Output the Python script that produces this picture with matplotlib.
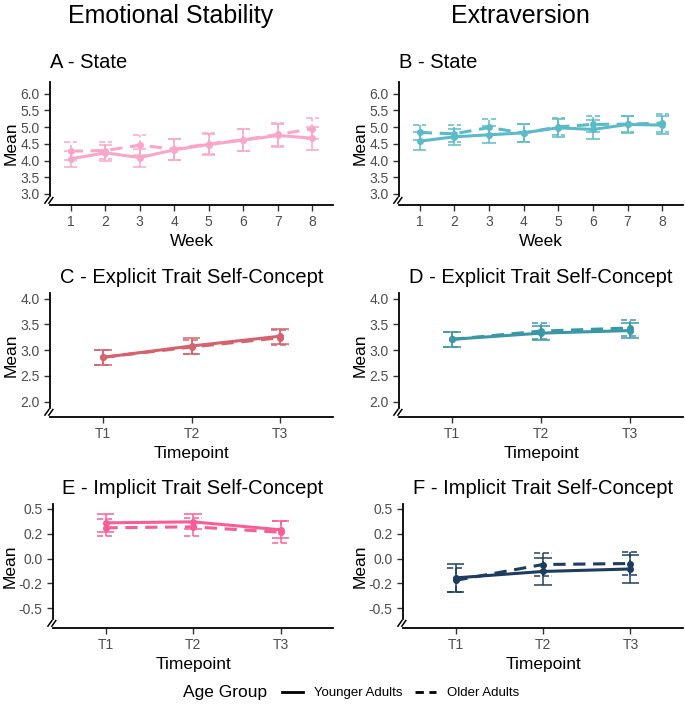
import matplotlib
matplotlib.use("Agg")
import matplotlib.pyplot as plt
from matplotlib.lines import Line2D

plt.rcParams['font.family'] = ['Liberation Sans', 'DejaVu Sans']

# x categories
weeks = [1, 2, 3, 4, 5, 6, 7, 8]
timepoints = ["T1", "T2", "T3"]

# A - emotional stability, state (weekly)
es_state_young = [4.05, 4.23, 4.09, 4.32, 4.48, 4.61, 4.75, 4.67]
es_state_young_se = [0.24, 0.24, 0.27, 0.31, 0.31, 0.32, 0.34, 0.34]
es_state_old = [4.28, 4.30, 4.46, 4.34, 4.50, 4.62, 4.78, 4.95]
es_state_old_se = [0.27, 0.26, 0.29, 0.31, 0.31, 0.32, 0.34, 0.31]

# B - extraversion, state (weekly)
ex_state_young = [4.58, 4.71, 4.77, 4.83, 4.98, 4.93, 5.08, 5.06]
ex_state_young_se = [0.27, 0.24, 0.25, 0.27, 0.27, 0.28, 0.25, 0.26]
ex_state_old = [4.84, 4.80, 4.99, 4.82, 5.01, 5.08, 5.09, 5.12]
ex_state_old_se = [0.22, 0.25, 0.24, 0.27, 0.25, 0.24, 0.25, 0.26]

# C / D - explicit trait self-concept
es_expl_young = [2.86, 3.08, 3.27]
es_expl_young_se = [0.14, 0.15, 0.15]
es_expl_old = [2.86, 3.06, 3.24]
es_expl_old_se = [0.14, 0.14, 0.15]
ex_expl_young = [3.21, 3.33, 3.38]
ex_expl_young_se = [0.14, 0.14, 0.14]
ex_expl_old = [3.21, 3.37, 3.43]
ex_expl_old_se = [0.15, 0.15, 0.15]

# E / F - implicit trait self-concept
es_impl_young = [0.36, 0.37, 0.29]
es_impl_young_se = [0.09, 0.075, 0.085]
es_impl_old = [0.31, 0.32, 0.265]
es_impl_old_se = [0.085, 0.09, 0.11]
ex_impl_young = [-0.195, -0.13, -0.105]
ex_impl_young_se = [0.145, 0.14, 0.145]
ex_impl_old = [-0.22, -0.06, -0.05]
ex_impl_old_se = [0.12, 0.12, 0.12]

state_ticks = [3.0, 3.5, 4.0, 4.5, 5.0, 5.5, 6.0]
expl_ticks = [2.0, 2.5, 3.0, 3.5, 4.0]
impl_ticks = [-0.5, -0.25, 0.0, 0.25, 0.5]
impl_ticklabels = ["-0.5", "-0.2", "0.0", "0.2", "0.5"]

W, H = 685, 709
fig = plt.figure(figsize=(W / 100, H / 100), dpi=100)


def px_axes(left, top, right, bottom):
    return fig.add_axes([left / W, 1 - bottom / H, (right - left) / W, (bottom - top) / H])


def draw_group(ax, x, y, se, color, ls, cap):
    lo = [a - b for a, b in zip(y, se)]
    hi = [a + b for a, b in zip(y, se)]
    ax.vlines(x, lo, hi, color=color, lw=1.2, linestyles=ls, alpha=0.9)
    ax.hlines(lo, [v - cap for v in x], [v + cap for v in x], color=color, lw=1.2, linestyles=ls, alpha=0.9)
    ax.hlines(hi, [v - cap for v in x], [v + cap for v in x], color=color, lw=1.2, linestyles=ls, alpha=0.9)
    ax.plot(x, y, color=color, lw=2.2, ls=ls, marker='o', ms=4, dashes=(4, 2.5) if ls == '--' else (None, None))


def panel(ax, x, young, young_se, old, old_se, color, title, title_loc,
          ylim, yticks, xlim, xticklabels, xlabel, cap, yticklabels=None):
    draw_group(ax, x, old, old_se, color, '--', cap)
    draw_group(ax, x, young, young_se, color, '-', cap)
    ax.set_xlim(*xlim)
    ax.set_ylim(*ylim)
    ax.set_xticks(x)
    ax.set_xticklabels(xticklabels)
    ax.set_yticks(yticks)
    if yticklabels is None:
        yticklabels = [f"{t:.1f}" for t in yticks]
    ax.set_yticklabels(yticklabels)
    for s in ['top', 'right']:
        ax.spines[s].set_visible(False)
    for s in ['left', 'bottom']:
        ax.spines[s].set_linewidth(1.3)
    ax.spines['left'].set_bounds(ylim[0] + (ylim[1] - ylim[0]) * 0.07, ylim[1])
    ax.tick_params(axis='both', labelsize=10, labelcolor='#4d4d4d', length=4, width=1, color='#333333')
    ax.set_xlabel(xlabel, fontsize=12.5, labelpad=3)
    ax.set_ylabel("Mean", fontsize=12.5, labelpad=1)
    if title_loc == 'left':
        ax.set_title(title, loc='left', fontsize=14.5, pad=10)
    else:
        ax.set_title(title, fontsize=14.5, pad=7)
    # axis break marks
    for dx in (0.0, 0.014):
        ax.plot([-0.018 + dx, -0.004 + dx], [0.015, 0.06], transform=ax.transAxes,
                color='black', lw=1.1, clip_on=False)


xt = [1, 2, 3]

axA = px_axes(50, 82, 333, 205)
panel(axA, weeks, es_state_young, es_state_young_se, es_state_old, es_state_old_se,
      '#f9a6c8', "A - State", 'left', (2.67, 6.35), state_ticks, (0.4, 8.6),
      [str(w) for w in weeks], "Week", 0.19)

axB = px_axes(399, 82, 683, 205)
panel(axB, weeks, ex_state_young, ex_state_young_se, ex_state_old, ex_state_old_se,
      '#5bbac7', "B - State", 'left', (2.67, 6.35), state_ticks, (0.4, 8.6),
      [str(w) for w in weeks], "Week", 0.19)

axC = px_axes(50, 293, 333, 417)
panel(axC, xt, es_expl_young, es_expl_young_se, es_expl_old, es_expl_old_se,
      '#d6616f', "C - Explicit Trait Self-Concept", 'center', (1.70, 4.11), expl_ticks, (0.4, 3.6),
      timepoints, "Timepoint", 0.1)

axD = px_axes(399, 293, 683, 417)
panel(axD, xt, ex_expl_young, ex_expl_young_se, ex_expl_old, ex_expl_old_se,
      '#3a97a6', "D - Explicit Trait Self-Concept", 'center', (1.70, 4.11), expl_ticks, (0.4, 3.6),
      timepoints, "Timepoint", 0.1)

axE = px_axes(53, 504, 333, 628)
panel(axE, xt, es_impl_young, es_impl_young_se, es_impl_old, es_impl_old_se,
      '#f75e97', "E - Implicit Trait Self-Concept", 'center', (-0.70, 0.55), impl_ticks, (0.4, 3.6),
      timepoints, "Timepoint", 0.1, impl_ticklabels)

axF = px_axes(403, 504, 683, 628)
panel(axF, xt, ex_impl_young, ex_impl_young_se, ex_impl_old, ex_impl_old_se,
      '#1d3c5e', "F - Implicit Trait Self-Concept", 'center', (-0.70, 0.55), impl_ticks, (0.4, 3.6),
      timepoints, "Timepoint", 0.1, impl_ticklabels)

# column headers
fig.text(171 / W, 1 - 16 / H, "Emotional Stability", fontsize=18, ha='center', va='center')
fig.text(520 / W, 1 - 16 / H, "Extraversion", fontsize=18, ha='center', va='center')

# legend
fig.text(183 / W, 1 - 693 / H, "Age Group", fontsize=12.5, ha='left', va='center')
handles = [Line2D([], [], color='black', lw=2, ls='-'),
           Line2D([], [], color='black', lw=2, ls='--', dashes=(3, 2))]
fig.legend(handles, ["Younger Adults", "Older Adults"], loc='center left',
           bbox_to_anchor=(270 / W, 1 - 693 / H), ncol=2, frameon=False,
           fontsize=9.5, handlelength=1.6, columnspacing=1.0, handletextpad=0.8)

fig.savefig("out.png", dpi=100)
